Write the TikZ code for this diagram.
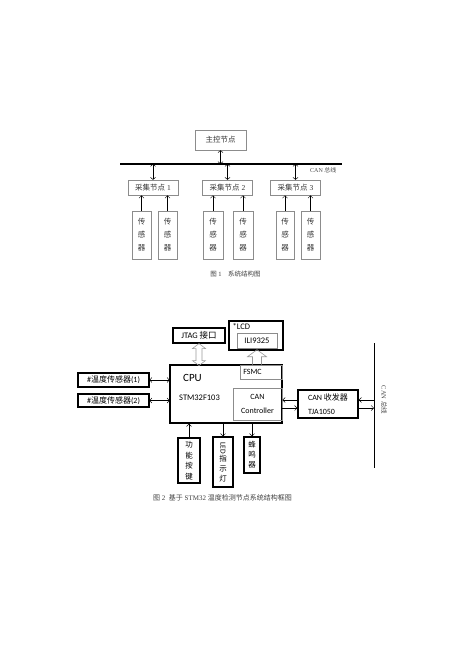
\documentclass[tikz,border=0pt]{standalone}
\usepackage{fontspec}
\usepackage{graphicx}
\setmainfont{Liberation Serif}
\newfontfamily\cjk{Noto Sans CJK SC}
\newfontfamily\cali{Carlito}
\usetikzlibrary{arrows.meta}
\newcommand\zh[1]{{\cjk #1}}

\begin{document}
\begin{tikzpicture}[x=1pt,y=1pt,yscale=-1,xscale=1,
  gbox/.style={draw=black!45, line width=0.5pt, inner sep=0pt, align=center, text=black!80},
  kbox/.style={draw=black, line width=1.1pt, inner sep=0pt, align=center},
  sbox/.style={draw=black!45, line width=0.6pt, inner sep=0pt},
  link/.style={line width=0.5pt, {Straight Barb[length=2pt,width=5pt]}-{Straight Barb[length=2pt,width=5pt]}},
  tip/.style={line width=0.5pt, -{Straight Barb[length=2.5pt,width=5pt]}},
  hollow/.style={draw=black!40, line width=0.6pt}
]
\useasboundingbox (0,0) rectangle (474,670);

%%%%% Figure 1
% Text Node
\node [gbox, minimum width=51, minimum height=20, font=\cjk\fontsize{7.5}{9}\selectfont] (main) at (220.5,140) {主控节点};
%Straight Lines: bus
\coordinate (busL) at (120,164);
\coordinate (busR) at (342,164);
\draw [line width=1.1pt] (busL) -- (busR);
% Text Node
\node [anchor=west, inner sep=0pt, text=black!70, font=\fontsize{6}{7}\selectfont] (buslbl) at (310,170.5) {CAN \zh{总线}};
\draw [link] (main.south) -- (main.south |- busL);

\foreach \i/\x in {1/153,2/227.5,3/295.5} {
  \node [gbox, minimum width=50, minimum height=15, font=\fontsize{7.5}{9}\selectfont] (c\i) at (\x,187.5) {\zh{采集节点} \i};
  \draw [link] (c\i.north |- busL) -- (c\i.north);
}

\foreach \n/\x/\w/\c in {s11/141.5/19/c1, s12/167.5/19/c1, s21/213/20/c2, s22/243/20/c2, s31/285/18/c3, s32/310.5/19/c3} {
  \node [gbox, minimum width=\w, minimum height=48, font=\cjk\fontsize{7.5}{13}\selectfont] (\n) at (\x,235) {传\\感\\器};
  \draw [tip] (\n.north) -- (\n.north |- \c.south);
}

% Text Node
\node [text=black!75, font=\fontsize{6.5}{8}\selectfont] (cap1) at (235.5,274) {\zh{图} 1\quad\zh{系统结构图}};

%%%%% Figure 2
\node [kbox, minimum width=52, minimum height=15, font=\cali\fontsize{8.5}{10}\selectfont] (jtag) at (199,335.5) {JTAG \zh{接口}};
\node [kbox, minimum width=54, minimum height=29] (lcd) at (256,335.5) {};
\node [anchor=north west, inner sep=0pt, font=\cali\fontsize{8.5}{10}\selectfont] (lcdlbl) at (232.5,323) {*LCD};
\node [sbox, minimum width=40, minimum height=15, font=\cali\fontsize{8.5}{10}\selectfont] (ili) at (257,340.5) {ILI9325};

\node [kbox, minimum width=112, minimum height=58] (cpu) at (226,394) {};
\node [inner sep=0pt, font=\cali\fontsize{11}{12}\selectfont] (cpulbl) at (192.5,378) {CPU};
\node [inner sep=0pt, font=\cali\fontsize{8.5}{10}\selectfont] (mcu) at (199.5,397.5) {STM32F103};
\node [sbox, minimum width=42, minimum height=14] (fsmc) at (261,372) {};
\node [inner sep=0pt, font=\cali\fontsize{8}{9}\selectfont] (fsmclbl) at (252.5,372) {FSMC};
\node [sbox, minimum width=49, minimum height=32, align=center, font=\cali\fontsize{8}{14}\selectfont] (canctl) at (257.5,404) {CAN\\Controller};

%Hollow arrows
\draw [hollow, shift={(jtag.south)}] (0,0) -- (6.5,5) -- (3,5) -- (3,17) -- (6.5,17) -- (0,22)
  -- (-6.5,17) -- (-3,17) -- (-3,5) -- (-6.5,5) -- cycle;
\draw [hollow, shift={(ili.south |- fsmc.north)}] (-4.5,0) -- (-4.5,-8) -- (-9.5,-8) -- (0,-15)
  -- (9.5,-8) -- (4.5,-8) -- (4.5,0);

% sensors
\node [kbox, minimum width=71, minimum height=14, font=\cali\fontsize{8}{9}\selectfont] (t1) at (113.5,380) {\#\zh{温度传感器}(1)};
\node [kbox, minimum width=71, minimum height=13, font=\cali\fontsize{8}{9}\selectfont] (t2) at (113.5,400.5) {\#\zh{温度传感器}(2)};
\draw [link] (t1.east) -- (t1.east -| cpu.west);
\draw [link] (t2.east) -- (t2.east -| cpu.west);

% bottom boxes
\node [kbox, minimum width=22, minimum height=45, font=\cjk\fontsize{7.5}{10.5}\selectfont] (key) at (189,460.5) {功\\能\\按\\键};
\node [kbox, minimum width=20, minimum height=50, font=\cjk\fontsize{7.5}{10}\selectfont] (led) at (223,462) {\rotatebox{-90}{\cali LED}\\指\\示\\灯};
\node [kbox, minimum width=16, minimum height=36, font=\cjk\fontsize{7.5}{10}\selectfont] (bell) at (252,455) {蜂\\鸣\\器};
\draw [tip] (key.north) -- (key.north |- cpu.south);
\draw [tip] (led.north |- cpu.south) -- (led.north);
\draw [tip] (bell.north |- cpu.south) -- (bell.north);

% CAN transceiver and bus
\node [kbox, minimum width=60, minimum height=28, align=left, font=\cali\fontsize{8}{14}\selectfont] (trx) at (328,404) {CAN \zh{收发器}\\TJA1050};
\coordinate (vbT) at (374,343);
\coordinate (vbB) at (374,468);
\draw [line width=1pt] (vbT) -- (vbB);
\node [rotate=-90, inner sep=0pt, text=black!70, font=\fontsize{6.5}{8}\selectfont] (vbl) at (384,400) {CAN \zh{总线}};
\draw [tip] ([yshift=4]canctl.east) -- ([yshift=4]trx.west);
\draw [tip] ([yshift=-4]trx.west) -- ([yshift=-4]canctl.east);
\draw [tip] ([yshift=4]trx.east) -- ([yshift=4]trx.east -| vbT);
\draw [tip] ([yshift=-4]trx.east -| vbT) -- ([yshift=-4]trx.east);

% Text Node
\node [text=black!75, font=\fontsize{7}{8}\selectfont] (cap2) at (222.5,498) {\zh{图} 2\ \ \zh{基于} STM32 \zh{温度检测节点系统结构框图}};

\end{tikzpicture}
\end{document}
